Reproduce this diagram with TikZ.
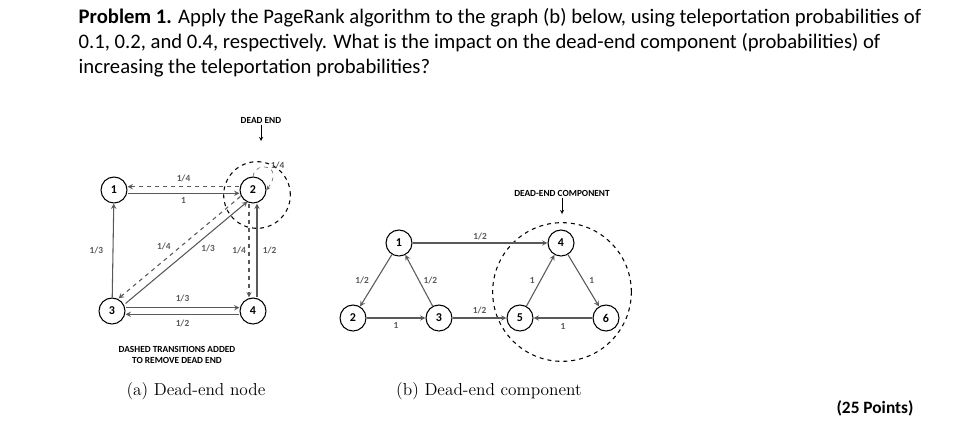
\documentclass[tikz,border=0pt]{standalone}
\usepackage{fontspec}
\setmainfont{Latin Modern Roman}
\newfontfamily\calib{Carlito}
\usetikzlibrary{arrows,positioning,calc}
\begin{document}
\begin{tikzpicture}[x=0.75pt,y=-0.75pt,
	state/.style={circle,draw,thick,minimum size=19.5pt,inner sep=0pt,font=\calib\bfseries\small},
	lbl/.style={font=\calib\bfseries\scriptsize,inner sep=1pt},
	edge/.style={->,>=stealth,gray!70!black,thick},
	dedge/.style={->,>=stealth,gray!70!black,thick,dashed}]
\useasboundingbox (0,0) rectangle (974,425);
\node[anchor=west,font=\calib\fontsize{15.5}{18.5}\selectfont,align=left,anchor=north west] (q) at (74,4)
 {\textbf{Problem 1.} Apply the PageRank algorithm to the graph (b) below, using teleportation probabilities of\\
 0.1, 0.2, and 0.4, respectively. What is the impact on the dead-end component (probabilities) of\\
 increasing the teleportation probabilities?};
% (a) dead-end node
\node[state] (a1) at (114,190) {1};
\node[state] (a2) at (253,190) {2};
\node[state] (a3) at (112,311) {3};
\node[state] (a4) at (253,311) {4};
\draw[dashed,thick] (257,195) circle (25pt);
\node[lbl] (de) at (261,120) {DEAD END};
\draw[->,>=stealth] (de) -- (261,141);
\draw[edge] ([yshift=-2.5pt]a1.east) -- ([yshift=-2.5pt]a2.west) node[lbl,midway,below=2pt] {1};
\draw[dedge] ([yshift=2.5pt]a2.west) -- ([yshift=2.5pt]a1.east) node[lbl,midway,above=2pt] {1/4};
\draw[edge] (a3) -- (a1) node[lbl,midway,left=6pt] {1/3};
\draw[edge] ($(a3.north east)+(4,2)$) -- ($(a2.south west)+(4,2)$) node[lbl,pos=0.6,below right=1pt] {1/3};
\draw[dedge] ($(a2.south west)+(-3,-3)$) -- ($(a3.north east)+(-3,-3)$) node[lbl,pos=0.55,above left=1pt] {1/4};
\draw[dedge] ([xshift=-3pt]a2.south) -- ([xshift=-3pt]a4.north) node[lbl,midway,left=1pt] {1/4};
\draw[edge] ([xshift=3pt]a4.north) -- ([xshift=3pt]a2.south) node[lbl,midway,right=3pt] {1/2};
\draw[edge] ([yshift=2.5pt]a3.east) -- ([yshift=2.5pt]a4.west) node[lbl,midway,above=3pt] {1/3};
\draw[edge] ([yshift=-2.5pt]a4.west) -- ([yshift=-2.5pt]a3.east) node[lbl,midway,below=3pt] {1/2};
\draw[dedge,thin] (a2.north) .. controls (255,160) and (285,165) .. (a2.east)
  node[lbl,pos=0.6,above right=-1pt] {1/4};
\node[lbl,align=center] (note) at (177,355) {DASHED TRANSITIONS ADDED\\TO REMOVE DEAD END};
\node[font=\fontsize{13}{15}\selectfont] (capa) at (196,391) {(a) Dead-end node};
% (b) dead-end component
\node[state] (b1) at (399,243) {1};
\node[state] (b2) at (353,318) {2};
\node[state] (b3) at (439,318) {3};
\node[state] (b4) at (561,243) {4};
\node[state] (b5) at (520,318) {5};
\node[state] (b6) at (606,318) {6};
\draw[dashed,thick] (562,292) circle (52pt);
\node[lbl] (dec) at (562,193) {DEAD-END COMPONENT};
\draw[->,>=stealth] (dec) -- (562,214);
\draw[edge] (b1) -- (b4) node[lbl,midway,above=1pt] {1/2};
\draw[edge] (b1) -- (b2) node[lbl,midway,left=4pt] {1/2};
\draw[edge] (b2) -- (b3) node[lbl,midway,below=2pt] {1};
\draw[edge] (b3) -- (b1) node[lbl,midway,right=2pt] {1/2};
\draw[edge] (b3) -- (b5) node[lbl,midway,above=2pt] {1/2};
\draw[edge] (b5) -- (b4) node[lbl,midway,left=3pt] {1};
\draw[edge] (b4) -- (b6) node[lbl,midway,right=3pt] {1};
\draw[edge] (b6) -- (b5) node[lbl,midway,below=3pt] {1};
\node[font=\fontsize{13}{15}\selectfont] (capb) at (489,391) {(b) Dead-end component};
\node[font=\calib\bfseries\fontsize{13}{15}\selectfont] (pts) at (875,408) {(25 Points)};
\end{tikzpicture}
\end{document}
